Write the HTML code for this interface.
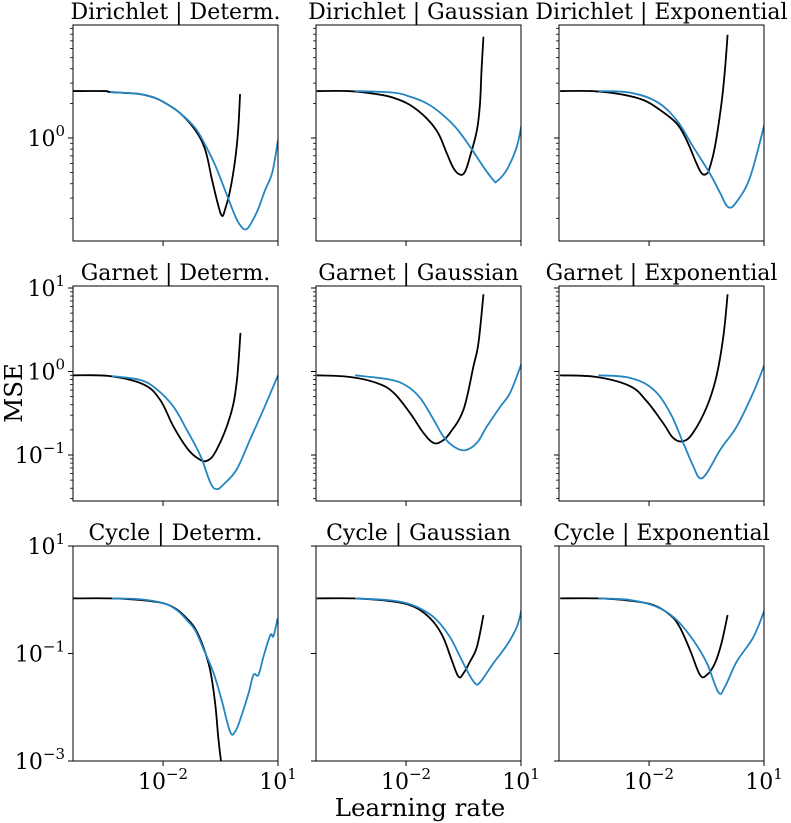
<!DOCTYPE html>
<html><head><meta charset="utf-8"><style>
html,body{margin:0;padding:0;background:#fff;}
svg{display:block;font-family:"DejaVu Serif","Liberation Serif",serif;}
</style></head><body>
<svg id="chart" width="791" height="823" viewBox="0 0 791 823" xmlns="http://www.w3.org/2000/svg"></svg>
<script>
// ---- data ----
const panelTitles = ["Dirichlet | Determ.","Dirichlet | Gaussian","Dirichlet | Exponential","Garnet | Determ.","Garnet | Gaussian","Garnet | Exponential","Cycle | Determ.","Cycle | Gaussian","Cycle | Exponential"];
const xTickExps = [-2, 1];
const rowYTickExps = [[0],[1,0,-1],[1,-1,-3]];
// learning-rate exponents (log10) and MSE values
const blackLr1 = [-4.35,-3.51,-3.38,-2.60,-2.21,-1.95,-1.56,-1.16,-0.90,-0.72,-0.56,-0.46,-0.38,-0.25,-0.12,-0.04,0.01];
const blackMse1 = [2.56,2.56,2.51,2.41,2.23,2.02,1.65,1.17,0.79,0.43,0.26,0.21,0.24,0.35,0.64,1.17,2.41];
const blueLr1 = [-3.38,-2.60,-2.21,-1.95,-1.56,-1.16,-0.90,-0.64,-0.38,-0.12,0.01,0.14,0.27,0.48,0.66,0.85,1.0];
const blueMse1 = [2.51,2.41,2.23,2.02,1.65,1.22,0.87,0.58,0.35,0.21,0.175,0.16,0.175,0.24,0.35,0.50,0.96];
const blackLr2 = [-4.33,-3.51,-2.77,-2.33,-1.90,-1.46,-1.16,-0.94,-0.76,-0.59,-0.46,-0.33,-0.15,-0.07,-0.03,0.02];
const blackMse2 = [2.56,2.56,2.41,2.24,1.94,1.48,1.10,0.74,0.545,0.48,0.51,0.69,1.17,2.0,3.9,7.6];
const blueLr2 = [-3.33,-2.33,-1.90,-1.46,-1.03,-0.68,-0.33,0.02,0.28,0.37,0.63,0.89,1.02];
const blueMse2 = [2.56,2.48,2.29,2.0,1.58,1.21,0.84,0.56,0.43,0.42,0.53,0.84,1.34];
const blackLr3 = [-4.32,-3.50,-2.76,-2.15,-1.71,-1.28,-1.02,-0.76,-0.62,-0.49,-0.41,-0.28,-0.11,-0.02,0.05];
const blackMse3 = [2.56,2.56,2.41,2.14,1.75,1.34,0.96,0.60,0.49,0.49,0.56,0.84,2.0,3.9,7.9];
const blueLr3 = [-3.32,-2.50,-1.80,-1.28,-0.85,-0.41,-0.14,0.07,0.29,0.64,1.03];
const blueMse3 = [2.56,2.48,2.07,1.43,0.84,0.49,0.33,0.25,0.28,0.46,1.39];
const blackLr4 = [-4.34,-3.38,-2.51,-2.08,-1.73,-1.38,-1.12,-0.86,-0.60,-0.25,-0.08,0.02];
const blackMse4 = [0.90,0.88,0.70,0.46,0.22,0.122,0.093,0.085,0.116,0.29,0.73,2.9];
const blueLr4 = [-3.33,-2.59,-2.16,-1.73,-1.38,-1.02,-0.76,-0.60,-0.43,-0.08,0.27,0.62,1.0];
const blueMse4 = [0.88,0.79,0.61,0.38,0.20,0.097,0.046,0.039,0.044,0.067,0.153,0.35,0.90];
const blackLr5 = [-4.33,-3.46,-2.77,-2.33,-1.90,-1.55,-1.29,-1.07,-0.85,-0.50,-0.24,-0.11,0.02];
const blackMse5 = [0.90,0.86,0.73,0.56,0.32,0.185,0.140,0.146,0.185,0.35,1.16,2.2,8.4];
const blueLr5 = [-3.33,-2.42,-1.98,-1.63,-1.29,-1.03,-0.76,-0.46,-0.15,0.11,0.46,0.72,1.02];
const blueMse5 = [0.90,0.80,0.67,0.48,0.27,0.168,0.127,0.114,0.140,0.22,0.38,0.56,1.27];
const blackLr6 = [-4.32,-3.37,-2.50,-2.06,-1.63,-1.37,-1.11,-0.85,-0.49,-0.24,-0.06,0.05];
const blackMse6 = [0.90,0.86,0.67,0.44,0.24,0.16,0.146,0.185,0.38,0.88,2.65,8.4];
const blueLr6 = [-3.32,-2.50,-1.89,-1.45,-1.11,-0.85,-0.68,-0.49,-0.14,0.29,0.72,1.03];
const blueMse6 = [0.90,0.84,0.61,0.32,0.140,0.074,0.053,0.061,0.116,0.22,0.56,1.27];
const blackLr7 = [-4.34,-3.38,-2.60,-1.99,-1.64,-1.38,-1.16,-0.95,-0.77,-0.64,-0.56,-0.49,-0.44];
const blackMse7 = [1.06,1.06,0.99,0.86,0.66,0.45,0.29,0.133,0.049,0.0118,0.0028,0.00102,0.0006];
const blueLr7 = [-3.33,-2.60,-1.99,-1.64,-1.38,-1.16,-0.95,-0.68,-0.47,-0.25,-0.12,0.01,0.23,0.36,0.49,0.62,0.80,0.88,0.99];
const blueMse7 = [1.06,1.02,0.86,0.64,0.42,0.27,0.124,0.043,0.0135,0.0035,0.0035,0.0058,0.018,0.040,0.040,0.087,0.22,0.21,0.45];
const blackLr8 = [-4.33,-3.37,-2.50,-1.98,-1.63,-1.29,-1.03,-0.81,-0.63,-0.50,-0.33,-0.15,0.02];
const blackMse8 = [1.06,1.06,0.96,0.83,0.64,0.39,0.20,0.076,0.037,0.043,0.071,0.133,0.52];
const blueLr8 = [-3.33,-2.50,-1.98,-1.55,-1.20,-0.85,-0.59,-0.37,-0.20,-0.07,0.28,0.63,0.89,1.02];
const blueMse8 = [1.06,0.99,0.86,0.64,0.42,0.20,0.087,0.043,0.028,0.029,0.066,0.143,0.31,0.69];
const blackLr9 = [-4.32,-3.32,-2.50,-1.89,-1.45,-1.20,-0.93,-0.67,-0.49,-0.28,-0.11,0.05];
const blackMse9 = [1.06,1.06,0.96,0.80,0.52,0.31,0.116,0.040,0.040,0.066,0.155,0.52];
const blueLr9 = [-3.32,-2.50,-1.80,-1.28,-0.85,-0.49,-0.19,-0.02,0.29,0.72,1.03];
const blueMse9 = [1.06,0.99,0.74,0.42,0.178,0.066,0.019,0.024,0.071,0.20,0.69];

const blackLrs=[blackLr1,blackLr2,blackLr3,blackLr4,blackLr5,blackLr6,blackLr7,blackLr8,blackLr9];
const blackMses=[blackMse1,blackMse2,blackMse3,blackMse4,blackMse5,blackMse6,blackMse7,blackMse8,blackMse9];
const blueLrs=[blueLr1,blueLr2,blueLr3,blueLr4,blueLr5,blueLr6,blueLr7,blueLr8,blueLr9];
const blueMses=[blueMse1,blueMse2,blueMse3,blueMse4,blueMse5,blueMse6,blueMse7,blueMse8,blueMse9];

// ---- layout ----
const NS="http://www.w3.org/2000/svg";
const svg=document.getElementById('chart');
const colLeft=[73,316,559], W=205;
const rowTop=[25,286,546], rowBot=[241,501,761];
const rowLogLo=[-0.896,-1.551,-3], rowLogHi=[0.983,1.024,1];
const xLo=-4.35, xHi=1.0;
function mk(t,a){const e=document.createElementNS(NS,t);for(const k in a)e.setAttribute(k,a[k]);return e;}
function xScale(c,exp){return colLeft[c]+(exp-xLo)/(xHi-xLo)*W;}
function yScale(r,v){const l=Math.log10(v);return rowTop[r]+(rowLogHi[r]-l)/(rowLogHi[r]-rowLogLo[r])*(rowBot[r]-rowTop[r]);}
function smoothPath(pts){
  let d='M'+pts[0][0].toFixed(2)+','+pts[0][1].toFixed(2);
  for(let i=0;i<pts.length-1;i++){
    const p0=pts[Math.max(0,i-1)],p1=pts[i],p2=pts[i+1],p3=pts[Math.min(pts.length-1,i+2)];
    const t=0.18;
    const c1=[p1[0]+(p2[0]-p0[0])*t,p1[1]+(p2[1]-p0[1])*t];
    const c2=[p2[0]-(p3[0]-p1[0])*t,p2[1]-(p3[1]-p1[1])*t];
    d+=' C'+c1[0].toFixed(2)+','+c1[1].toFixed(2)+' '+c2[0].toFixed(2)+','+c2[1].toFixed(2)+' '+p2[0].toFixed(2)+','+p2[1].toFixed(2);
  }
  return d;
}
function powLabel(x,y,exp,anchor){
  const t=mk('text',{x:x,y:y,'font-size':22,'text-anchor':anchor,fill:'#000'});
  t.appendChild(document.createTextNode('10'));
  const s=mk('tspan',{dy:-10,'font-size':15});
  s.textContent=String(exp).replace('-','\u2212');
  t.appendChild(s);
  return t;
}
const defs=mk('defs',{});svg.appendChild(defs);
for(let p=0;p<9;p++){
  const r=Math.floor(p/3), c=p%3;
  const g=mk('g',{});
  
  
  svg.appendChild(g);
  const L=colLeft[c],T=rowTop[r],B=rowBot[r];
  const cp=mk('clipPath',{id:'cp'+p});cp.appendChild(mk('rect',{x:L,y:T,width:W,height:B-T}));defs.appendChild(cp);
  const tt=mk('text',{x:L+W/2,y:T-6,'font-size':22,'text-anchor':'middle',fill:'#000'});
  tt.textContent=panelTitles[p];
  
  
  g.appendChild(tt);
  if(r<2){
    for(let d=Math.floor(rowLogLo[r]);d<=Math.ceil(rowLogHi[r]);d++){
      for(let m=2;m<=9;m++){
        const v=m*Math.pow(10,d);const lv=Math.log10(v);
        if(lv<rowLogLo[r]||lv>rowLogHi[r])continue;
        const y=yScale(r,v);
        g.appendChild(mk('line',{x1:L-3,x2:L,y1:y,y2:y,stroke:'#000','stroke-width':0.8}));
      }
    }
  }
  rowYTickExps[r].forEach(e=>{
    const y=yScale(r,Math.pow(10,e));
    g.appendChild(mk('line',{x1:L-5,x2:L,y1:y,y2:y,stroke:'#000','stroke-width':1}));
    if(c===0){
      const lab=powLabel(L-8,y+8,e,'end');
      
      
      g.appendChild(lab);
    }
  });
  xTickExps.forEach(e=>{
    const x=xScale(c,e);
    g.appendChild(mk('line',{x1:x,x2:x,y1:B,y2:B+5,stroke:'#000','stroke-width':1}));
    if(r===2){
      const lab=powLabel(x,B+28,e,'middle');
      
      
      g.appendChild(lab);
    }
  });
  const series=[[blackLrs[p],blackMses[p],'#000','black-series'],[blueLrs[p],blueMses[p],'#2385c2','blue-series']];
  series.forEach(s=>{
    const pts=s[0].map((e,i)=>[xScale(c,e),yScale(r,s[1][i])]);
    const path=mk('path',{d:smoothPath(pts),fill:'none',stroke:s[2],'stroke-width':1.8,'stroke-linejoin':'round','clip-path':'url(#cp'+p+')'});
    
    
    g.appendChild(path);
  });
  const frame=mk('rect',{x:L,y:T,width:W,height:B-T,fill:'none',stroke:'#000','stroke-width':1});
  
  
  g.appendChild(frame);
}
const xl=mk('text',{x:420,y:816,'font-size':24.5,'text-anchor':'middle',fill:'#000'});
xl.textContent='Learning rate';


svg.appendChild(xl);
const yl=mk('text',{x:0,y:0,'font-size':24.5,'text-anchor':'middle',fill:'#000',transform:'translate(22,393) rotate(-90)'});
yl.textContent='MSE';


svg.appendChild(yl);
</script>
</body></html>
